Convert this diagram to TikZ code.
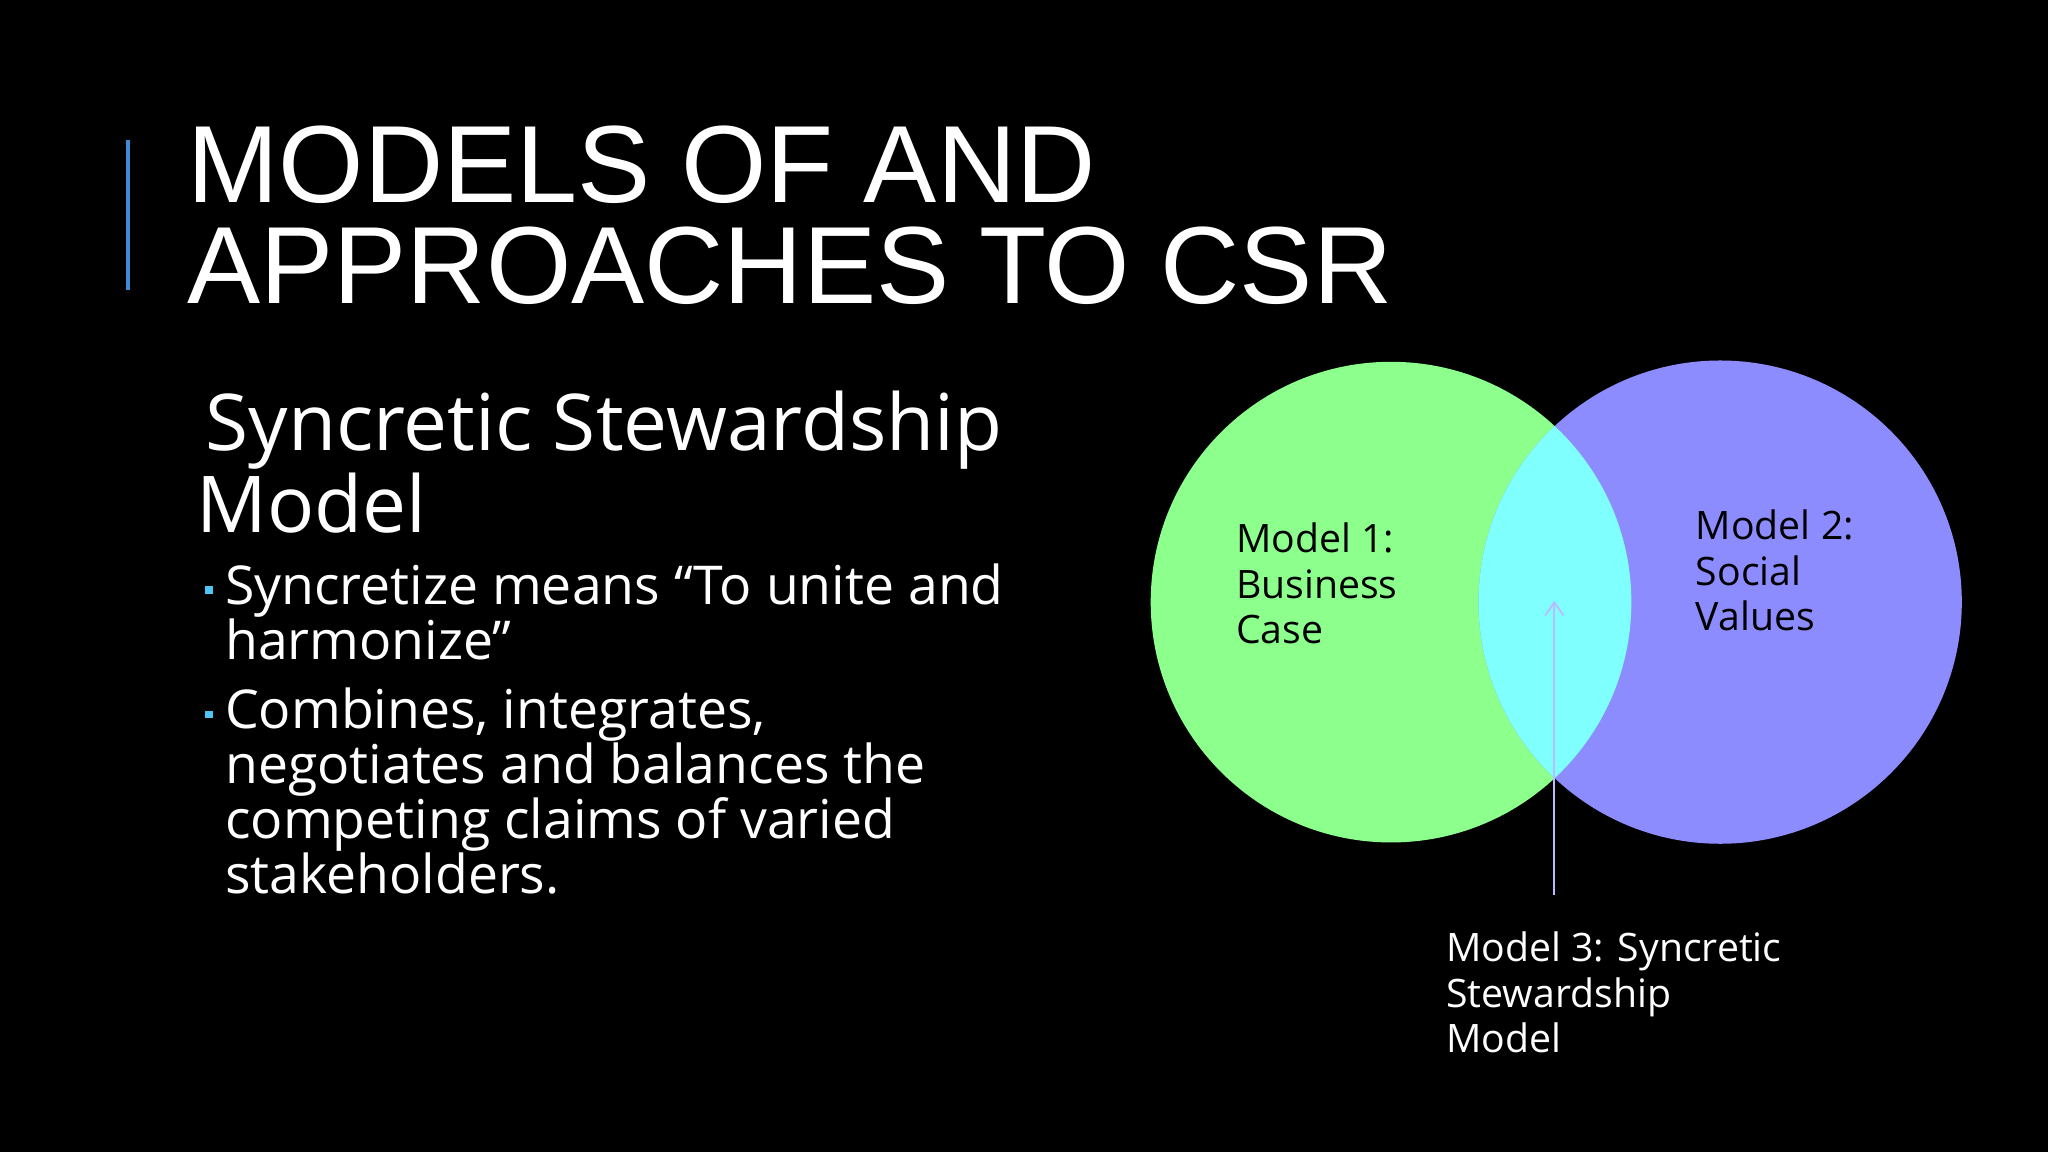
\documentclass[tikz,border=0pt]{standalone}
\usetikzlibrary{arrows.meta}
\usepackage{fontspec}
\setmainfont{Open Sans}
\newfontfamily\titlefont{Liberation Sans}
\begin{document}
\begin{tikzpicture}[x=0.5pt,y=-0.5pt,
  title/.style={anchor=base west,inner sep=0,text=white,font=\titlefont\fontsize{42}{42}\selectfont},
  body/.style={anchor=base west,inner sep=0,text=white,font=\fontsize{20.5}{20.5}\selectfont},
  head/.style={anchor=base west,inner sep=0,text=white,font=\fontsize{30}{30}\selectfont},
  lab/.style={anchor=base west,inner sep=0,font=\fontsize{15}{15}\selectfont,align=left},
  bul/.style={fill=cyan!70!white,minimum size=3pt,inner sep=0}]
\definecolor{gr}{HTML}{8CFF8C}\definecolor{pu}{HTML}{8C8CFF}\definecolor{cy}{HTML}{80FFFF}
\fill[black] (0,0) rectangle (1568,882);
\useasboundingbox (0,0) rectangle (1568,882);
\draw[cyan!60!blue!80!white,line width=1.2pt] (98,107) -- (98,222);
\node[title] (t1) at (143,155) {MODELS OF AND};
\node[title] (t2) at (143,232) {APPROACHES TO CSR};
\node[head] (h1) at (157,345) {Syncretic Stewardship};
\node[head] (h2) at (150,408) {Model};
\node[bul] (b1) at (160,452) {};
\node[body] (l1) at (172,463) {Syncretize means “To unite and};
\node[body] (l2) at (172,505) {harmonize”};
\node[bul] (b2) at (160,547) {};
\node[body] (l3) at (172,558) {Combines, integrates,};
\node[body] (l4) at (172,600) {negotiates and balances the};
\node[body] (l5) at (172,642) {competing claims of varied};
\node[body] (l6) at (172,684) {stakeholders.};
\fill[gr] (1065,461) circle[radius=184];
\fill[pu] (1317,461) circle[radius=185];
\begin{scope}
\clip (1065,461) circle[radius=184];
\fill[cy] (1317,461) circle[radius=185];
\end{scope}
\coordinate (a0) at (1190,685);
\coordinate (a1) at (1190,460);
\draw[pu!60!white,line width=0.7pt,-{Straight Barb[length=5pt,width=7pt]}] (a0) -- (a1);
\node[lab] (m1a) at (946,423) {Model 1:};
\node[lab] (m1b) at (946,458) {Business};
\node[lab] (m1c) at (946,493) {Case};
\node[lab] (m2a) at (1298,413) {Model 2:};
\node[lab] (m2b) at (1298,448) {Social};
\node[lab] (m2c) at (1298,483) {Values};
\node[lab,text=white] (m3a) at (1107,736) {Model 3: Syncretic};
\node[lab,text=white] (m3b) at (1107,771) {Stewardship};
\node[lab,text=white] (m3c) at (1107,806) {Model};
\end{tikzpicture}
\end{document}
